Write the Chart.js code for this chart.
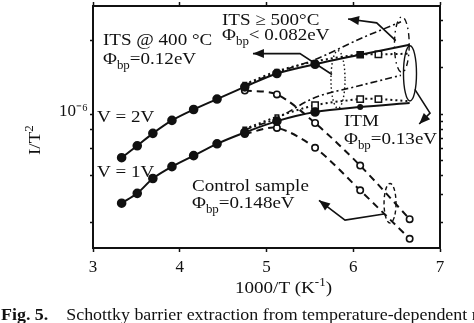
<!DOCTYPE html>
<html lang="en">
<head>
<meta charset="UTF-8">
<title>I/T² vs 1000/T</title>
<script src="https://cdn.jsdelivr.net/npm/chart.js"></script>
<style>
  body { margin: 0; background: #fff; }
  canvas { display: block; }
</style>
</head>
<body>
<canvas id="barrierChart" width="474" height="323"></canvas>
<script>
  // 1000/T (K^-1) sample points
  const xMain = [3.33, 3.51, 3.69, 3.91, 4.16, 4.43, 4.75, 5.12, 5.56, 6.08, 6.65];
  const xIts400 = [4.75, 5.12, 5.56, 6.08, 6.29, 6.65];
  const xIts500 = [4.75, 5.12, 5.56, 6.08, 6.55];
  const xControl = [4.75, 5.12, 5.56, 6.08, 6.65];

  // I/T^2 values
  const itm2V = [5.22e-7, 6.23e-7, 7.5e-7, 9.1e-7, 1.07e-6, 1.25e-6, 1.5e-6, 1.83e-6, 2.1e-6, 2.42e-6, 2.81e-6];
  const itm1V = [2.65e-7, 3.07e-7, 3.83e-7, 4.57e-7, 5.38e-7, 6.42e-7, 7.6e-7, 9.0e-7, 1.03e-6, 1.11e-6, 1.18e-6];
  const its400_2V = [1.56e-6, 1.89e-6, 2.19e-6, 2.43e-6, 2.43e-6, 2.46e-6];
  const its400_1V = [8.0e-7, 9.6e-7, 1.14e-6, 1.25e-6, 1.25e-6, 1.21e-6];
  const its500_2V = [1.54e-6, 1.86e-6, 2.25e-6, 3.07e-6, 3.95e-6];
  const its500_1V = [7.9e-7, 9.4e-7, 1.28e-6, 1.53e-6, 1.78e-6];
  const control2V = [1.42e-6, 1.34e-6, 8.75e-7, 4.64e-7, 2.09e-7];
  const control1V = [7.44e-7, 8.13e-7, 6.05e-7, 3.21e-7, 1.56e-7];

  // axis ticks
  const xTicks = [3, 4, 5, 6, 7];
  const yTicks = [2e-7, 3e-7, 4e-7, 5e-7, 6e-7, 7e-7, 8e-7, 9e-7, 1e-6, 2e-6, 3e-6, 4e-6];

  const serif = '"Liberation Serif", "Times New Roman", serif';
  const ink = '#111';

  // text pieces: [text, kind] where kind is 'sub', 'sup' or 'b'
  const labels = [
    { at: [3.115, -5.551], parts: [['ITS @ 400 °C']] },
    { at: [3.115, -5.673], parts: [['Φ'], ['bp', 'sub'], ['=0.12eV']] },
    { at: [4.487, -5.423], parts: [['ITS ≥ 500°C']] },
    { at: [4.487, -5.519], parts: [['Φ'], ['bp', 'sub'], ['< 0.082eV']] },
    { at: [3.046, -6.051], parts: [['V = 2V']] },
    { at: [3.046, -6.404], parts: [['V = 1V']] },
    { at: [5.893, -6.077], parts: [['ITM']] },
    { at: [5.893, -6.192], parts: [['Φ'], ['bp', 'sub'], ['=0.13eV']] },
    { at: [4.141, -6.5], parts: [['Control sample']] },
    { at: [4.141, -6.609], parts: [['Φ'], ['bp', 'sub'], ['=0.148eV']] }
  ];

  // arrows, [x, log10(y)], head on the last point
  const arrows = [
    [[5.755, -5.744], [5.386, -5.609], [4.844, -5.609]],
    [[6.49, -5.525], [6.27, -5.41], [5.94, -5.385]],
    [[6.71, -5.84], [6.885, -5.994], [6.76, -6.064]],
    [[6.354, -6.647], [5.905, -6.686], [5.605, -6.558]]
  ];

  // group ellipses: centre x, centre log10(y), half width, half height (log units)
  const ellipses = [
    { c: [5.824, -5.776], r: [0.081, 0.186], dash: [1.5, 2.5] },
    { c: [6.654, -5.737], r: [0.075, 0.179], dash: [] },
    { c: [6.424, -6.577], r: [0.069, 0.128], dash: [4, 3] },
    { c: [6.56, -5.551], r: [0.085, 0.18], dash: [6, 4, 1.5, 4] }
  ];

  function richText(ctx, parts, x, y, size) {
    ctx.save();
    ctx.translate(x, y);
    ctx.scale(1.12, 1);
    let cx = 0;
    for (const [txt, kind] of parts) {
      const small = kind === 'sub' || kind === 'sup';
      const s = small ? size * 0.68 : size;
      const dy = kind === 'sub' ? size * 0.3 : kind === 'sup' ? -size * 0.42 : 0;
      ctx.font = (kind === 'b' ? 'bold ' : '') + s + 'px ' + serif;
      ctx.fillText(txt, cx, dy);
      cx += ctx.measureText(txt).width;
    }
    ctx.restore();
  }

  const annotations = {
    id: 'annotations',
    afterDraw(chart) {
      const { ctx, chartArea, scales: { x, y } } = chart;
      const px = v => x.getPixelForValue(v);
      const py = e => y.getPixelForValue(Math.pow(10, e));
      ctx.save();
      ctx.fillStyle = ink;
      ctx.strokeStyle = ink;
      ctx.textAlign = 'left';
      ctx.textBaseline = 'alphabetic';

      labels.forEach(l => richText(ctx, l.parts, px(l.at[0]), py(l.at[1]), 17));

      ctx.lineWidth = 1.6;
      arrows.forEach(a => {
        const p = a.map(q => [px(q[0]), py(q[1])]);
        ctx.beginPath();
        ctx.moveTo(p[0][0], p[0][1]);
        p.slice(1).forEach(q => ctx.lineTo(q[0], q[1]));
        ctx.stroke();
        const [bx, by] = p[p.length - 2];
        const [tx, ty] = p[p.length - 1];
        const ang = Math.atan2(ty - by, tx - bx);
        ctx.beginPath();
        ctx.moveTo(tx, ty);
        ctx.lineTo(tx - 11 * Math.cos(ang) + 4.5 * Math.sin(ang), ty - 11 * Math.sin(ang) - 4.5 * Math.cos(ang));
        ctx.lineTo(tx - 11 * Math.cos(ang) - 4.5 * Math.sin(ang), ty - 11 * Math.sin(ang) + 4.5 * Math.cos(ang));
        ctx.closePath();
        ctx.fill();
      });

      ctx.lineWidth = 1.4;
      ellipses.forEach(e => {
        const cx = px(e.c[0]), cy = py(e.c[1]);
        const rx = Math.abs(px(e.c[0] + e.r[0]) - cx);
        const ry = Math.abs(py(e.c[1] + e.r[1]) - cy);
        ctx.setLineDash(e.dash);
        ctx.beginPath();
        ctx.ellipse(cx, cy, rx, ry, 0, 0, Math.PI * 2);
        ctx.stroke();
      });
      ctx.setLineDash([]);

      // axis titles
      richText(ctx, [['1000/T (K'], ['-1', 'sup'], [')']], px(4.637), chartArea.bottom + 45, 17);
      ctx.save();
      ctx.translate(40, 155);
      ctx.rotate(-Math.PI / 2);
      richText(ctx, [['I/T'], ['2', 'sup']], 0, 0, 17);
      ctx.restore();

      // caption
      richText(ctx, [['Fig. 5.', 'b'], ['    Schottky barrier extraction from temperature-dependent measurements']], 1, 320, 16);
      ctx.restore();
    }
  };

  const pts = (xs, ys) => xs.map((v, i) => ({ x: v, y: ys[i] }));

  Chart.defaults.font.family = serif;
  Chart.defaults.color = ink;

  const frame = { color: ink, width: 2 };
  const tickMarks = len => ({ drawOnChartArea: false, color: ink, tickColor: ink, tickWidth: 1.5, tickLength: len });
  const setLogTicks = s => { s.ticks = yTicks.map(v => ({ value: v })); };
  // fixed axis sizes so the plot box lands at the same place every time
  const fixSize = (w, h) => s => {
    if (w !== null) s.width = w;
    if (h !== null) s.height = h;
    s.paddingTop = s.paddingBottom = s.paddingLeft = s.paddingRight = 0;
  };

  new Chart(document.getElementById('barrierChart'), {
    type: 'line',
    data: {
      datasets: [
        {
          data: pts(xMain, itm2V), borderColor: ink, borderWidth: 2, tension: 0.3,
          pointStyle: ['circle', 'circle', 'circle', 'circle', 'circle', 'circle', 'circle', 'circle', 'circle', 'rect', 'circle'],
          pointRadius: [3.8, 3.8, 3.8, 3.8, 3.8, 3.8, 3.8, 3.8, 3.8, 4, 0],
          pointBackgroundColor: ink, pointBorderColor: ink
        },
        {
          data: pts(xMain, itm1V), borderColor: ink, borderWidth: 2, tension: 0.3,
          pointStyle: 'circle',
          pointRadius: [3.8, 3.8, 3.8, 3.8, 3.8, 3.8, 3.8, 3.8, 3.8, 2, 0],
          pointBackgroundColor: ink, pointBorderColor: ink
        },
        {
          data: pts(xIts400, its400_2V), borderColor: ink, borderWidth: 2, borderDash: [2, 3], tension: 0.3,
          pointStyle: 'rect', pointRadius: [2.5, 2.5, 0, 0, 4.5, 0],
          pointBackgroundColor: '#fff', pointBorderColor: ink, pointBorderWidth: 1.5
        },
        {
          data: pts(xIts400, its400_1V), borderColor: ink, borderWidth: 2, borderDash: [2, 3], tension: 0.3,
          pointStyle: 'rect', pointRadius: [2.5, 2.5, 4.5, 4.5, 4.5, 0],
          pointBackgroundColor: '#fff', pointBorderColor: ink, pointBorderWidth: 1.5
        },
        {
          data: pts(xIts500, its500_2V), borderColor: ink, borderWidth: 1.6, borderDash: [7, 3, 2, 3], tension: 0.3,
          pointRadius: 0
        },
        {
          data: pts(xIts500, its500_1V), borderColor: ink, borderWidth: 1.6, borderDash: [7, 3, 2, 3], tension: 0.3,
          pointRadius: 0
        },
        {
          data: pts(xControl, control2V), borderColor: ink, borderWidth: 2, borderDash: [7, 5], tension: 0.3,
          pointStyle: 'circle', pointRadius: 3.2,
          pointBackgroundColor: '#fff', pointBorderColor: ink, pointBorderWidth: 1.6
        },
        {
          data: pts(xControl, control1V), borderColor: ink, borderWidth: 2, borderDash: [7, 5], tension: 0.3,
          pointStyle: 'circle', pointRadius: 3.2,
          pointBackgroundColor: '#fff', pointBorderColor: ink, pointBorderWidth: 1.6
        }
      ]
    },
    options: {
      responsive: false,
      animation: false,
      events: [],
      layout: { padding: 0 },
      plugins: { legend: { display: false }, tooltip: { enabled: false } },
      scales: {
        x: {
          type: 'linear', position: 'bottom', min: 3, max: 7,
          afterBuildTicks: s => { s.ticks = xTicks.map(v => ({ value: v })); },
          ticks: { font: { size: 17 }, color: ink, padding: 5 },
          grid: tickMarks(4), border: frame,
          afterFit: fixSize(null, 75)
        },
        xTop: {
          type: 'linear', position: 'top', min: 3, max: 7,
          afterBuildTicks: s => { s.ticks = xTicks.map(v => ({ value: v })); },
          ticks: { display: false },
          grid: tickMarks(4), border: frame,
          afterFit: fixSize(null, 4)
        },
        y: {
          type: 'logarithmic', position: 'left', min: 1.36e-7, max: 5e-6,
          afterBuildTicks: setLogTicks,
          ticks: {
            font: { size: 17 }, color: ink, padding: 2, labelOffset: -3,
            callback: v => (v === 1e-6 ? '10⁻⁶' : '')
          },
          grid: tickMarks(3), border: frame,
          afterFit: fixSize(93, null)
        },
        yRight: {
          type: 'logarithmic', position: 'right', min: 1.36e-7, max: 5e-6,
          afterBuildTicks: setLogTicks,
          ticks: { display: false },
          grid: tickMarks(3), border: frame,
          afterFit: fixSize(34, null)
        }
      }
    },
    plugins: [annotations]
  });
</script>
</body>
</html>
